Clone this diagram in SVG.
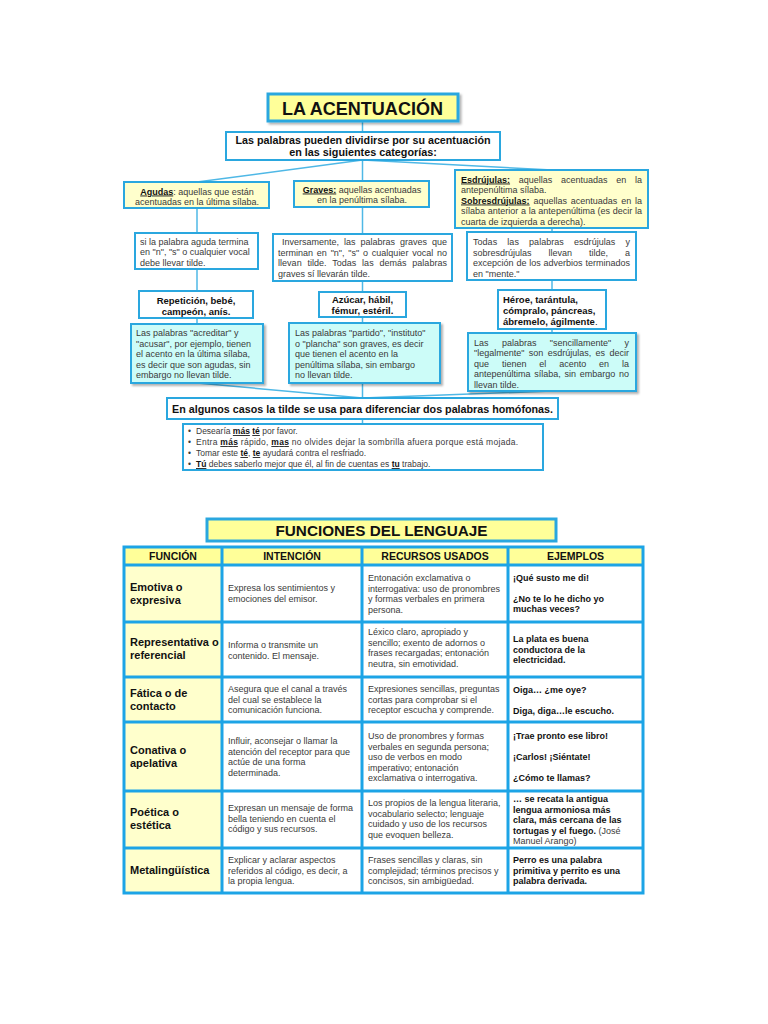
<svg xmlns="http://www.w3.org/2000/svg" width="768" height="1024" viewBox="0 0 768 1024">
<defs>
<style>
text{font-family:"Liberation Sans",Arial,sans-serif;font-size:9px;fill:#3a3a3a}
.b{font-weight:bold;fill:#111}
.u{text-decoration:underline}
.m{text-anchor:middle}
.box{stroke:#2aa7df;stroke-width:2}
.yl{fill:#ffffcc}
.wh{fill:#ffffff}
.cy{fill:#ccfcf8}
.ti{fill:#ffff99;stroke:#2aa7df;stroke-width:3}
.conn line{stroke:#4fb8e6;stroke-width:1.5}
.ex{font-size:9.5px}
.fn{font-size:11px;font-weight:bold;fill:#111}
.hd{font-size:10.5px;font-weight:bold;fill:#111;text-anchor:middle}
.bl{font-size:8.5px}
</style>
<filter id="sh" x="-10%" y="-10%" width="130%" height="140%">
<feDropShadow dx="2" dy="2" stdDeviation="1.2" flood-color="#000" flood-opacity="0.3"/>
</filter>
</defs>
<rect width="768" height="1024" fill="#ffffff"/>

<g class="conn">
<line x1="362.5" y1="121" x2="362.5" y2="132"/>
<line x1="362.5" y1="160" x2="197" y2="182"/>
<line x1="362.5" y1="160" x2="362.5" y2="181"/>
<line x1="362.5" y1="160" x2="552" y2="170"/>
<line x1="197" y1="208" x2="197" y2="233"/>
<line x1="197" y1="269" x2="197" y2="291"/>
<line x1="197" y1="318" x2="197" y2="324"/>
<line x1="362.5" y1="207" x2="362.5" y2="234"/>
<line x1="362.5" y1="281" x2="362.5" y2="292"/>
<line x1="362.5" y1="317" x2="362.5" y2="323"/>
<line x1="552" y1="228" x2="552" y2="232"/>
<line x1="552" y1="280" x2="552" y2="290"/>
<line x1="552" y1="329" x2="552" y2="333"/>
<line x1="197" y1="383" x2="362.5" y2="398"/>
<line x1="362.5" y1="383" x2="362.5" y2="398"/>
<line x1="552" y1="391" x2="362.5" y2="398"/>
<line x1="362.5" y1="419" x2="362.5" y2="424"/>
</g>

<g id="title">
<rect x="268" y="94" width="190" height="27" class="ti" filter="url(#sh)"/>
<text x="362.5" y="115" class="b m" style="font-size:17.5px" textLength="161" lengthAdjust="spacingAndGlyphs">LA ACENTUACIÓN</text>
</g>

<g id="subtitle">
<rect x="226" y="132" width="274" height="28" class="box wh"/>
<text x="363" y="144" class="b m" style="font-size:10.8px" textLength="255" lengthAdjust="spacingAndGlyphs">Las palabras pueden dividirse por su acentuación</text>
<text x="363" y="156" class="b m" style="font-size:10.8px">en las siguientes categorías:</text>
</g>

<g id="agudas">
<rect x="124" y="182" width="145" height="26" class="box yl"/>
<text x="197" y="194.5" class="m"><tspan class="b u">Agudas</tspan>: aquellas que están</text>
<text x="197" y="205" class="m">acentuadas en la última sílaba.</text>
</g>

<g id="graves">
<rect x="294" y="181" width="135" height="26" class="box yl"/>
<text x="362" y="192.5" class="m"><tspan class="b u">Graves:</tspan> aquellas acentuadas</text>
<text x="362" y="203" class="m">en la penúltima sílaba.</text>
</g>

<g id="esdrujulas">
<rect x="455" y="170" width="193" height="58" class="box yl"/>
<text x="461" y="182.5" word-spacing="6.2" textLength="181" lengthAdjust="spacing"><tspan class="b u">Esdrújulas:</tspan> aquellas acentuadas en la</text>
<text x="461" y="193">antepenúltima sílaba.</text>
<text x="461" y="203.5" word-spacing="1.3" textLength="181" lengthAdjust="spacing"><tspan class="b u">Sobresdrújulas:</tspan> aquellas acentuadas en la</text>
<text x="461" y="214" word-spacing="0.2" textLength="181" lengthAdjust="spacing">sílaba anterior a la antepenúltima (es decir la</text>
<text x="461" y="224.5">cuarta de izquierda a derecha).</text>
</g>

<g id="agudas-regla">
<rect x="135" y="233" width="123" height="36" class="box wh"/>
<text x="140" y="244.5">si la palabra aguda termina</text>
<text x="140" y="255">en "n", "s" o cualquier vocal</text>
<text x="140" y="265.5">debe llevar tilde.</text>
</g>

<g id="graves-regla">
<rect x="273" y="234" width="179" height="47" class="box wh"/>
<text x="282" y="245" word-spacing="2.5" textLength="165" lengthAdjust="spacing">Inversamente, las palabras graves que</text>
<text x="278" y="255.5" word-spacing="1.3" textLength="169" lengthAdjust="spacing">terminan en "n", "s" o cualquier vocal no</text>
<text x="278" y="266" word-spacing="3.2" textLength="169" lengthAdjust="spacing">llevan tilde. Todas las demás palabras</text>
<text x="278" y="276.5">graves sí llevarán tilde.</text>
</g>

<g id="esdrujulas-regla">
<rect x="467" y="232" width="169" height="48" class="box wh"/>
<text x="473" y="245" word-spacing="7.6" textLength="157" lengthAdjust="spacing">Todas las palabras esdrújulas y</text>
<text x="473" y="255.5" word-spacing="14.5" textLength="157" lengthAdjust="spacing">sobresdrújulas llevan tilde, a</text>
<text x="473" y="266" word-spacing="0.3" textLength="157" lengthAdjust="spacing">excepción de los adverbios terminados</text>
<text x="473" y="276.5">en "mente."</text>
</g>

<g id="agudas-ej">
<rect x="139" y="291" width="114" height="27" class="box wh"/>
<text x="196" y="303.5" class="b m ex">Repetición, bebé,</text>
<text x="196" y="314.5" class="b m ex">campeón, anís.</text>
</g>

<g id="graves-ej">
<rect x="319" y="292" width="87" height="25" class="box wh"/>
<text x="362.5" y="303" class="b m ex">Azúcar, hábil,</text>
<text x="362.5" y="314" class="b m ex">fémur, estéril.</text>
</g>

<g id="esdrujulas-ej">
<rect x="498" y="290" width="108" height="39" class="box wh"/>
<text x="503" y="303" class="b ex">Héroe, tarántula,</text>
<text x="503" y="314" class="b ex">cómpralo, páncreas,</text>
<text x="503" y="325" class="b ex">ábremelo, ágilmente<tspan style="font-weight:normal">.</tspan></text>
</g>

<g id="agudas-nota">
<rect x="131" y="324" width="132" height="59" class="box cy" filter="url(#sh)"/>
<text x="136" y="336">Las palabras "acreditar" y</text>
<text x="136" y="346.5">"acusar", por ejemplo, tienen</text>
<text x="136" y="357">el acento en la última sílaba,</text>
<text x="136" y="367.5">es decir que son agudas, sin</text>
<text x="136" y="378">embargo no llevan tilde.</text>
</g>

<g id="graves-nota">
<rect x="289" y="323" width="151" height="60" class="box cy" filter="url(#sh)"/>
<text x="295" y="336">Las palabras "partido", "instituto"</text>
<text x="295" y="346.5">o "plancha"  son graves, es decir</text>
<text x="295" y="357">que tienen el acento en la</text>
<text x="295" y="367.5">penúltima sílaba, sin embargo</text>
<text x="295" y="378">no llevan tilde.</text>
</g>

<g id="esdrujulas-nota">
<rect x="468" y="333" width="168" height="58" class="box cy" filter="url(#sh)"/>
<text x="474" y="345.5" word-spacing="10.9" textLength="155" lengthAdjust="spacing">Las palabras "sencillamente" y</text>
<text x="474" y="356" word-spacing="1.9" textLength="155" lengthAdjust="spacing">"legalmente" son esdrújulas, es decir</text>
<text x="474" y="366.5" word-spacing="10.4" textLength="155" lengthAdjust="spacing">que tienen el acento en la</text>
<text x="474" y="377" word-spacing="1.2" textLength="155" lengthAdjust="spacing">antepenúltima sílaba, sin embargo no</text>
<text x="474" y="387.5">llevan tilde.</text>
</g>

<g id="homofonas">
<rect x="167" y="398" width="391" height="21" class="box wh"/>
<text x="362.5" y="412.5" class="b m" style="font-size:10.5px" textLength="381" lengthAdjust="spacingAndGlyphs">En algunos casos la tilde se usa  para diferenciar dos palabras homófonas.</text>
</g>

<g id="ejemplos-tilde">
<rect x="183" y="424" width="360" height="46" class="box wh"/>
<text x="188" y="434" class="bl">•</text>
<text x="196" y="434" class="bl">Desearía <tspan class="b u">más</tspan> <tspan class="b u">té</tspan> por favor.</text>
<text x="188" y="445" class="bl">•</text>
<text x="196" y="445" class="bl" textLength="322" lengthAdjust="spacing">Entra  <tspan class="b u">más</tspan> rápido, <tspan class="b u">mas</tspan> no olvides dejar la sombrilla afuera porque está mojada.</text>
<text x="188" y="456" class="bl">•</text>
<text x="196" y="456" class="bl">Tomar este <tspan class="b u">té</tspan>, <tspan class="b u">te</tspan> ayudará contra el resfriado.</text>
<text x="188" y="467" class="bl">•</text>
<text x="196" y="467" class="bl"><tspan class="b u">Tú</tspan> debes saberlo mejor que él, al fin de cuentas es <tspan class="b u">tu</tspan> trabajo.</text>
</g>

<g id="funciones-titulo">
<rect x="207" y="519" width="349" height="22" class="ti"/>
<text x="381.5" y="535.5" class="b m" style="font-size:15px" textLength="212" lengthAdjust="spacingAndGlyphs">FUNCIONES DEL LENGUAJE</text>
</g>

<g id="tabla">
<rect x="124" y="547" width="519" height="18" fill="#ffff99"/>
<rect x="124" y="565" width="98" height="328" fill="#ffffcc"/>
<rect x="222" y="565" width="421" height="328" fill="#ffffff"/>
<g stroke="#1ca4e6" stroke-width="3" fill="none">
<rect x="124" y="547" width="519" height="346"/>
<line x1="222" y1="547" x2="222" y2="893"/>
<line x1="362" y1="547" x2="362" y2="893"/>
<line x1="508" y1="547" x2="508" y2="893"/>
<line x1="124" y1="565" x2="643" y2="565"/>
<line x1="124" y1="622" x2="643" y2="622"/>
<line x1="124" y1="677" x2="643" y2="677"/>
<line x1="124" y1="722" x2="643" y2="722"/>
<line x1="124" y1="791" x2="643" y2="791"/>
<line x1="124" y1="848" x2="643" y2="848"/>
</g>
<text x="173" y="559.5" class="hd">FUNCIÓN</text>
<text x="292" y="559.5" class="hd">INTENCIÓN</text>
<text x="435" y="559.5" class="hd">RECURSOS USADOS</text>
<text x="575.5" y="559.5" class="hd">EJEMPLOS</text>

<text x="130" y="591" class="fn">Emotiva o</text>
<text x="130" y="604" class="fn">expresiva</text>
<text x="228" y="591">Expresa los sentimientos y</text>
<text x="228" y="602">emociones del emisor.</text>
<text x="368" y="581">Entonación exclamativa  o</text>
<text x="368" y="591.5">interrogativa:  uso de pronombres</text>
<text x="368" y="602">y formas verbales en primera</text>
<text x="368" y="612.5">persona.</text>
<text x="513" y="581" class="b">¡Qué susto me di!</text>
<text x="513" y="601.5" class="b">¿No te lo he dicho yo</text>
<text x="513" y="612" class="b">muchas veces?</text>

<text x="130" y="645.5" class="fn">Representativa o</text>
<text x="130" y="658.5" class="fn">referencial</text>
<text x="228" y="648">Informa  o transmite un</text>
<text x="228" y="659">contenido.  El mensaje.</text>
<text x="368" y="635">Léxico claro, apropiado y</text>
<text x="368" y="645.5">sencillo; exento de adornos o</text>
<text x="368" y="656">frases recargadas; entonación</text>
<text x="368" y="666.5">neutra,  sin emotividad.</text>
<text x="513" y="642" class="b">La plata es buena</text>
<text x="513" y="652.5" class="b">conductora de la</text>
<text x="513" y="663" class="b">electricidad.</text>

<text x="130" y="697" class="fn">Fática o de</text>
<text x="130" y="710" class="fn">contacto</text>
<text x="228" y="692">Asegura que el canal a través</text>
<text x="228" y="702.5">del cual se establece la</text>
<text x="228" y="713">comunicación funciona.</text>
<text x="368" y="692">Expresiones sencillas, preguntas</text>
<text x="368" y="702.5">cortas para comprobar si el</text>
<text x="368" y="713">receptor escucha y comprende.</text>
<text x="513" y="693" class="b">Oiga… ¿me oye?</text>
<text x="513" y="713.5" class="b">Diga, diga…le escucho.</text>

<text x="130" y="754" class="fn">Conativa o</text>
<text x="130" y="767" class="fn">apelativa</text>
<text x="228" y="744">Influir,  aconsejar o llamar la</text>
<text x="228" y="754.5">atención del receptor para que</text>
<text x="228" y="765">actúe de una forma</text>
<text x="228" y="775.5">determinada.</text>
<text x="368" y="739">Uso de pronombres y formas</text>
<text x="368" y="749.5">verbales en segunda persona;</text>
<text x="368" y="760">uso de verbos en modo</text>
<text x="368" y="770.5">imperativo; entonación</text>
<text x="368" y="781">exclamativa  o interrogativa.</text>
<text x="513" y="739" class="b">¡Trae pronto ese libro!</text>
<text x="513" y="760" class="b">¡Carlos!  ¡Siéntate!</text>
<text x="513" y="781" class="b">¿Cómo te llamas?</text>

<text x="130" y="816" class="fn">Poética o</text>
<text x="130" y="829" class="fn">estética</text>
<text x="228" y="811">Expresan un mensaje de forma</text>
<text x="228" y="821.5">bella teniendo en cuenta el</text>
<text x="228" y="832">código y sus recursos.</text>
<text x="368" y="806">Los propios de la lengua literaria,</text>
<text x="368" y="816.5">vocabulario selecto; lenguaje</text>
<text x="368" y="827">cuidado y uso de los recursos</text>
<text x="368" y="837.5">que evoquen belleza.</text>
<text x="513" y="802" class="b">… se recata la antigua</text>
<text x="513" y="812.5" class="b">lengua armoniosa más</text>
<text x="513" y="823" class="b">clara, más cercana de las</text>
<text x="513" y="833.5"><tspan class="b">tortugas y el fuego.</tspan> (José</text>
<text x="513" y="844">Manuel Arango)</text>

<text x="130" y="874" class="fn">Metalingüística</text>
<text x="228" y="863">Explicar y aclarar aspectos</text>
<text x="228" y="873.5">referidos al código, es decir, a</text>
<text x="228" y="884">la propia lengua.</text>
<text x="368" y="863">Frases sencillas y claras, sin</text>
<text x="368" y="873.5">complejidad; términos precisos y</text>
<text x="368" y="884">concisos, sin ambigüedad.</text>
<text x="513" y="863" class="b">Perro es una palabra</text>
<text x="513" y="873.5" class="b">primitiva y perrito es una</text>
<text x="513" y="884" class="b">palabra derivada.</text>
</g>
</svg>
